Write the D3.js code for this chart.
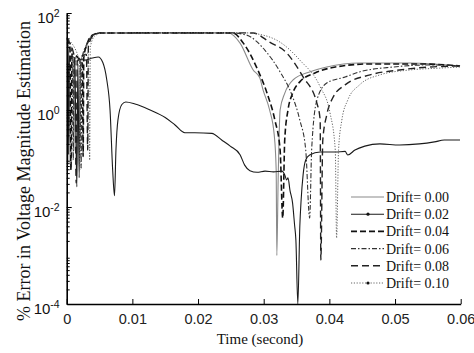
<!DOCTYPE html>
<html>
<head>
<meta charset="utf-8">
<script src="https://cdn.jsdelivr.net/npm/d3@7"></script>
<style>
  body { margin: 0; background: #fff; }
  svg { display: block; font-family: "Liberation Serif", "DejaVu Serif", serif; }
</style>
</head>
<body>
<svg id="chart" width="474" height="353"></svg>
<script>
// values: [time (s), % error]
const drift000 = [
  [0, 28], [0.0003, 20], [0.00035, 0.08], [0.0004, 12], [0.0010, 10], [0.0011, 0.15],
  [0.0012, 10], [0.0020, 10.7], [0.0028, 17], [0.0035, 30], [0.0043, 37], [0.0051, 38.7],
  [0.0150, 39], [0.0246, 38.7], [0.0264, 24], [0.0284, 6.7], [0.0294, 4.6], [0.0299, 2.6],
  [0.0309, 1.0], [0.0316, 0.31], [0.0319, 0.058], [0.0320, 0.001], [0.0322, 0.036],
  [0.0325, 1.0], [0.0332, 2.2], [0.0345, 4.2], [0.0370, 6.1], [0.0396, 7.7], [0.0446, 9.3],
  [0.0523, 9.3], [0.0599, 8.1]
];
const drift002 = [
  [0, 25], [0.0002, 16], [0.0003, 0.12], [0.0004, 13], [0.0012, 12], [0.00155, 0.026],
  [0.0017, 9], [0.0019, 0.04], [0.0021, 11], [0.0028, 10.7], [0.0039, 11.8], [0.0048, 12.4],
  [0.0055, 9.5], [0.0061, 4.2], [0.0066, 1.0], [0.0070, 0.058], [0.00728, 0.017],
  [0.0075, 0.15], [0.0078, 0.62], [0.0084, 1.3], [0.0090, 1.46], [0.0104, 1.33],
  [0.0127, 1.0], [0.0150, 0.70], [0.0165, 0.49], [0.0180, 0.34], [0.0195, 0.34],
  [0.0221, 0.33], [0.0236, 0.24], [0.0249, 0.18], [0.0264, 0.12], [0.0271, 0.073],
  [0.0279, 0.056], [0.0290, 0.052], [0.0302, 0.055], [0.0315, 0.053], [0.0328, 0.055],
  [0.0332, 0.046], [0.0335, 0.036], [0.0337, 0.040], [0.0340, 0.022], [0.0344, 0.012],
  [0.0347, 0.0043], [0.0349, 0.0021], [0.0352, 0.0001], [0.0355, 0.004], [0.0357, 0.014],
  [0.0360, 0.046], [0.0364, 0.093], [0.0370, 0.118], [0.0386, 0.136], [0.0409, 0.136],
  [0.0424, 0.14], [0.0428, 0.118], [0.0439, 0.15], [0.0454, 0.18], [0.0477, 0.20],
  [0.0507, 0.19], [0.0537, 0.20], [0.0560, 0.22], [0.0575, 0.24], [0.0599, 0.24]
];
const drift004 = [
  [0, 30], [0.0005, 18], [0.00065, 0.058], [0.0008, 14], [0.0024, 9], [0.0025, 0.11],
  [0.0026, 12], [0.0032, 25], [0.0039, 35], [0.0051, 38.7], [0.0240, 39], [0.0252, 39],
  [0.0271, 21.9], [0.0291, 6.7], [0.0306, 2.04], [0.0317, 0.62], [0.0325, 0.15],
  [0.0329, 0.0059], [0.0332, 0.24], [0.0337, 1.0], [0.0344, 2.2], [0.0355, 3.8],
  [0.0378, 5.8], [0.0409, 7.7], [0.0462, 8.9], [0.0538, 8.9], [0.0599, 8.1]
];
const drift006 = [
  [0, 32], [0.0008, 15], [0.0010, 0.093], [0.0011, 12], [0.0020, 10], [0.0022, 0.064],
  [0.0023, 11], [0.0030, 22], [0.0039, 34], [0.0051, 38.7], [0.0250, 39], [0.0274, 35],
  [0.0302, 17], [0.0325, 6.1], [0.0343, 2.04], [0.0355, 0.62], [0.0364, 0.15],
  [0.0370, 0.0059], [0.0373, 0.15], [0.0381, 1.6], [0.0396, 3.6], [0.0424, 4.8],
  [0.0446, 6.1], [0.0497, 7.7], [0.0553, 8.5], [0.0599, 8.1]
];
const drift008 = [
  [0, 30], [0.0012, 12], [0.00145, 0.031], [0.0016, 10], [0.0030, 14], [0.0032, 0.15],
  [0.0033, 20], [0.0040, 34], [0.0051, 38.7], [0.0260, 39], [0.0284, 38.7], [0.0309, 25],
  [0.0335, 15], [0.0360, 4.8], [0.0381, 1.39], [0.0386, 0.62], [0.0387, 0.00081],
  [0.0390, 0.24], [0.0396, 0.79], [0.0405, 1.77], [0.0424, 3.3], [0.0462, 5.3],
  [0.0507, 6.7], [0.0553, 7.7], [0.0599, 8.1]
];
const drift010 = [
  [0, 30], [0.0019, 11], [0.0020, 0.058], [0.0021, 10], [0.0033, 15], [0.0035, 0.093],
  [0.0036, 20], [0.0043, 34], [0.0055, 38.7], [0.0270, 39], [0.0299, 35], [0.0325, 25],
  [0.0355, 10.7], [0.0386, 3.0], [0.0401, 0.87], [0.0409, 0.15], [0.0411, 0.0023],
  [0.0414, 0.15], [0.0419, 0.62], [0.0428, 1.6], [0.0446, 3.3], [0.0477, 5.3],
  [0.0523, 6.7], [0.0568, 7.3], [0.0599, 7.7]
];

const legendLabels = ['Drift= 0.00', 'Drift= 0.02', 'Drift= 0.04', 'Drift= 0.06', 'Drift= 0.08', 'Drift= 0.10'];
const xTicks = [0, 0.01, 0.02, 0.03, 0.04, 0.05, 0.06];
const xTickLabels = ['0', '0.01', '0.02', '0.03', '0.04', '0.05', '0.06'];
const yTicks = [1e-4, 1e-2, 1, 1e2];
const yTickExponents = ['-4', '-2', '0', '2'];

const series = [drift000, drift002, drift004, drift006, drift008, drift010];
const styles = [
  { stroke: '#8a8a8a', width: 1.1, dash: null, dot: false },
  { stroke: '#1a1a1a', width: 1.1, dash: null, dot: true },
  { stroke: '#111', width: 1.6, dash: '6,3', dot: false },
  { stroke: '#333', width: 1.1, dash: '5,2,1.5,2', dot: false },
  { stroke: '#222', width: 1.4, dash: '7,4', dot: false },
  { stroke: '#666', width: 1, dash: '1.2,1.6', dot: true },
];

const svg = d3.select('#chart');
const margin = { top: 13, right: 13.3, bottom: 49, left: 66.7 };
const width = 474 - margin.left - margin.right;
const height = 353 - margin.top - margin.bottom;

const x = d3.scaleLinear().domain([0, 0.06]).range([margin.left, margin.left + width]);
const y = d3.scaleLog().domain([1e-4, 1e2]).range([margin.top + height, margin.top]);

svg.append('clipPath').attr('id', 'plotclip')
  .append('rect')
  .attr('x', margin.left).attr('y', margin.top - 2)
  .attr('width', width + 1).attr('height', height + 2);

const line = d3.line()
  .x((d) => x(d[0]))
  .y((d) => y(d[1]))
  .curve(d3.curveMonotoneX);

const lines = svg.append('g').attr('clip-path', 'url(#plotclip)');
series.forEach((data, i) => {
  lines.append('path')
    .datum(data)
    .attr('fill', 'none')
    .attr('stroke', styles[i].stroke)
    .attr('stroke-width', styles[i].width)
    .attr('stroke-dasharray', styles[i].dash)
    .attr('d', line);
});

// left axis: major + minor ticks drawn inside
const minorTicks = [];
for (let e = -4; e < 2; e++) {
  for (let k = 2; k <= 9; k++) minorTicks.push(k * Math.pow(10, e));
}
svg.append('g')
  .attr('transform', 'translate(' + margin.left + ',0)')
  .call(d3.axisLeft(y).tickValues(minorTicks).tickSize(-3).tickFormat(''))
  .call((g) => g.select('.domain').remove());

const yAxis = svg.append('g')
  .attr('transform', 'translate(' + margin.left + ',0)')
  .call(d3.axisLeft(y).tickValues(yTicks).tickSize(-5).tickSizeOuter(0).tickPadding(7).tickFormat(''));

yAxis.selectAll('.tick text').each(function (d, i) {
  const t = d3.select(this)
    .attr('font-size', 15)
    .attr('fill', '#111')
    .attr('dy', '0.65em');
  t.append('tspan').text('10');
  t.append('tspan').attr('dy', '-0.55em').attr('font-size', 10.5).text(yTickExponents[i]);
});

const xAxis = svg.append('g')
  .attr('transform', 'translate(0,' + (margin.top + height) + ')')
  .call(d3.axisBottom(x).tickValues(xTicks).tickSize(-5).tickSizeOuter(0).tickPadding(10)
    .tickFormat((d, i) => xTickLabels[i]));
xAxis.selectAll('.tick text').attr('font-size', 14.5).attr('fill', '#222');

svg.selectAll('.domain').attr('stroke', '#000').attr('stroke-width', 1.6);
svg.selectAll('.tick line').attr('stroke', '#000').attr('stroke-width', 1);

// axis titles
svg.append('text')
  .attr('x', 260).attr('y', 344)
  .attr('text-anchor', 'middle')
  .attr('font-size', 15)
  .attr('fill', '#111')
  .text('Time (second)');

svg.append('text')
  .attr('transform', 'translate(30,171) rotate(-90)')
  .attr('text-anchor', 'middle')
  .attr('font-size', 18)
  .attr('fill', '#111')
  .text('% Error in Voltage Magnitude Estimation');

// legend
const legend = svg.append('g');
legendLabels.forEach((label, i) => {
  const cy = 197 + i * 17.2;
  legend.append('line')
    .attr('x1', 351).attr('x2', 384)
    .attr('y1', cy).attr('y2', cy)
    .attr('stroke', styles[i].stroke)
    .attr('stroke-width', styles[i].width)
    .attr('stroke-dasharray', styles[i].dash);
  if (styles[i].dot) {
    legend.append('circle')
      .attr('cx', 368).attr('cy', cy).attr('r', 1.6)
      .attr('fill', '#111');
  }
  legend.append('text')
    .attr('x', 386).attr('y', cy + 5)
    .attr('font-size', 14)
    .attr('fill', '#111')
    .text(label);
});
</script>
</body>
</html>
